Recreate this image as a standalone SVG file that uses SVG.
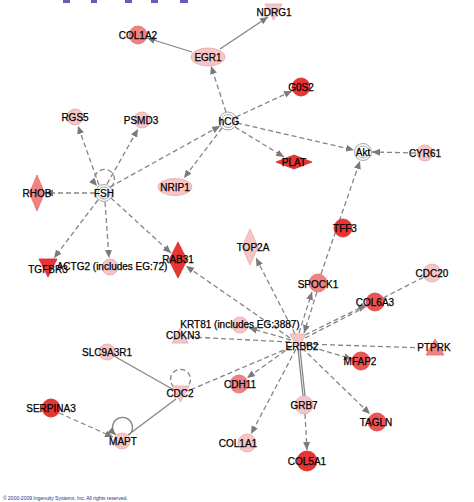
<svg xmlns="http://www.w3.org/2000/svg" width="474" height="502" viewBox="0 0 474 502">
<defs>
<marker id="ah" markerUnits="userSpaceOnUse" markerWidth="9" markerHeight="8" refX="8" refY="3.5" orient="auto">
<path d="M0,0 L8,3.5 L0,7 z" fill="#7a7a7a"/>
</marker>
</defs>
<style>
.e{fill:none;stroke:#858585;stroke-width:1.3}
.d{stroke-dasharray:5,3}
.a{marker-end:url(#ah)}
.lp{fill:#f6c6c6;stroke:#e4a8a8;stroke-width:0.8}
.sa{fill:#f08282;stroke:#e07070;stroke-width:0.8}
.rd{fill:#e83434;stroke:#d42a2a;stroke-width:0.8}
.md{fill:#ec5454;stroke:#d84444;stroke-width:0.8}
.wh{fill:#ffffff;stroke:#9a9a9a;stroke-width:0.9}
text{font-family:"Liberation Sans",Arial,sans-serif;font-size:10px;fill:#000;stroke:#000;stroke-width:0.25;text-anchor:middle}
.cp{font-size:5px;fill:#2a2a8a;stroke:none;text-anchor:start}
</style>
<rect width="474" height="502" fill="#ffffff"/>
<g id="title-fragments" fill="#6a5ab8">
<rect x="63" y="0" width="7" height="3"/>
<rect x="91" y="0" width="6" height="3"/>
<rect x="125" y="0" width="7" height="3"/>
<rect x="151" y="0" width="7" height="3"/>
<rect x="180" y="0" width="8" height="3"/>
</g>
<g id="connectors">
<line class="e a" x1="192" y1="52" x2="147" y2="38"/>
<line class="e a" x1="220" y1="49" x2="268" y2="17"/>
<line class="e d a" x1="226" y1="112" x2="211" y2="66"/>
<line class="e d a" x1="236" y1="117" x2="292" y2="91"/>
<line class="e d a" x1="235" y1="127" x2="284" y2="157"/>
<line class="e d a" x1="237" y1="123" x2="354" y2="150"/>
<line class="e d a" x1="222" y1="128" x2="184" y2="178"/>
<line class="e d a" x1="110" y1="187" x2="220" y2="126"/>
<line class="e d a" x1="416" y1="153" x2="372" y2="152"/>
<line class="e d a" x1="99" y1="185" x2="78" y2="126"/>
<line class="e d a" x1="107" y1="184" x2="138" y2="129"/>
<line class="e d a" x1="95" y1="193" x2="45" y2="193"/>
<path class="e d a" d="M111,187 A10,10 0 1 0 97,186"/>
<line class="e d a" x1="98" y1="200" x2="54" y2="258"/>
<line class="e d a" x1="105" y1="202" x2="109" y2="258"/>
<line class="e d a" x1="111" y1="198" x2="171" y2="253"/>
<line class="e d a" x1="290" y1="338" x2="186" y2="266"/>
<line class="e d a" x1="295" y1="334" x2="256" y2="258"/>
<line class="e d a" x1="321" y1="274" x2="360" y2="161"/>
<line class="e d a" x1="299" y1="333" x2="312" y2="292"/>
<line class="e d a" x1="317" y1="292" x2="304" y2="333"/>
<line class="e d" x1="305" y1="338" x2="424" y2="277"/>
<line class="e d a" x1="305" y1="335" x2="366" y2="305"/>
<line class="e d a" x1="291" y1="340" x2="249" y2="328"/>
<line class="e d" x1="290" y1="342" x2="190" y2="337"/>
<line class="e d" x1="306" y1="344" x2="426" y2="348"/>
<line class="e d a" x1="304" y1="345" x2="352" y2="359"/>
<line class="e d a" x1="292" y1="346" x2="247" y2="378"/>
<line class="e d" x1="291" y1="347" x2="190" y2="390"/>
<line class="e d a" x1="296" y1="349" x2="251" y2="434"/>
<line class="e" x1="298" y1="349" x2="303" y2="396"/>
<line class="e" x1="300" y1="349" x2="305" y2="396"/>
<line class="e d a" x1="302" y1="348" x2="370" y2="414"/>
<line class="e d a" x1="305" y1="414" x2="307" y2="450"/>
<line class="e" x1="114" y1="356" x2="174" y2="390"/>
<line class="e" x1="176" y1="399" x2="128" y2="435"/>
<path class="e d" d="M174,387 A10,10 0 1 1 187,387"/>
<line class="e d a" x1="59" y1="413" x2="113" y2="437"/>
<path class="e a" d="M129,435 A10,10 0 1 0 116,435"/>
</g>
<g id="NDRG1"><polygon class="lp" points="265,4 282,4 273.5,20"/><text x="274" y="16">NDRG1</text></g>
<g id="COL1A2"><circle class="sa" cx="138" cy="35" r="9"/><text x="138" y="39">COL1A2</text></g>
<g id="EGR1"><ellipse class="lp" cx="208" cy="57" rx="17" ry="9"/><text x="208" y="61">EGR1</text></g>
<g id="hCG"><circle class="wh" cx="228" cy="121" r="9"/><circle class="wh" cx="228" cy="121" r="6.5"/><text x="229" y="125">hCG</text></g>
<g id="G0S2"><circle class="rd" cx="301" cy="87" r="9"/><text x="301" y="91">G0S2</text></g>
<g id="PLAT"><polygon class="rd" points="276,162 294,155 312,162 294,169"/><text x="294" y="166">PLAT</text></g>
<g id="Akt"><circle class="wh" cx="363" cy="152" r="8.5"/><circle class="wh" cx="363" cy="152" r="6"/><text x="363" y="156">Akt</text></g>
<g id="CYR61"><circle class="lp" cx="425" cy="153" r="8"/><text x="425" y="157">CYR61</text></g>
<g id="RGS5"><circle class="lp" cx="75" cy="117" r="8"/><text x="75" y="121">RGS5</text></g>
<g id="PSMD3"><circle class="lp" cx="142" cy="120" r="8"/><text x="141" y="124">PSMD3</text></g>
<g id="FSH"><circle class="wh" cx="104" cy="193" r="8.5"/><circle class="wh" cx="104" cy="193" r="6"/><text x="104" y="197">FSH</text></g>
<g id="RHOB"><polygon class="sa" points="37,175 44.5,193 37,211 29.5,193"/><text x="37" y="197">RHOB</text></g>
<g id="NRIP1"><ellipse class="lp" cx="175" cy="187" rx="17" ry="8.5"/><text x="175" y="191">NRIP1</text></g>
<g id="TGFBR3"><polygon class="rd" points="39,259 57,259 48,277"/><text x="48" y="273">TGFBR3</text></g>
<g id="ACTG2"><circle class="lp" cx="110" cy="267" r="8"/><text x="112" y="270">ACTG2 (includes EG:72)</text></g>
<g id="RAB31"><polygon class="rd" points="178,242 187,260 178,278 169,260"/><text x="178" y="263">RAB31</text></g>
<g id="TOP2A"><polygon class="lp" points="250,229 258,247 250,265 242,247"/><text x="253" y="251">TOP2A</text></g>
<g id="TFF3"><circle class="rd" cx="343" cy="228" r="9"/><text x="345" y="232">TFF3</text></g>
<g id="SPOCK1"><circle class="sa" cx="318" cy="283" r="9"/><text x="318" y="288">SPOCK1</text></g>
<g id="CDC20"><circle class="lp" cx="432" cy="273" r="9"/><text x="432" y="277">CDC20</text></g>
<g id="COL6A3"><circle class="md" cx="375" cy="302" r="9"/><text x="375" y="306">COL6A3</text></g>
<g id="KRT81"><circle class="lp" cx="240" cy="325" r="8"/><text x="240" y="328">KRT81 (includes EG:3887)</text></g>
<g id="CDKN3"><polygon class="lp" points="180,328 188,343 172,343"/><text x="183" y="339">CDKN3</text></g>
<g id="ERBB2"><polygon class="lp" points="290,334 306,334 298,349"/><text x="302" y="350">ERBB2</text></g>
<g id="PTPRK"><polygon class="sa" points="435,339 444,355 426,355"/><text x="434" y="351">PTPRK</text></g>
<g id="MFAP2"><circle class="md" cx="361" cy="361" r="9"/><text x="360" y="365">MFAP2</text></g>
<g id="CDH11"><circle class="sa" cx="239" cy="384" r="9"/><text x="240" y="388">CDH11</text></g>
<g id="SLC9A3R1"><circle class="lp" cx="107" cy="352" r="8"/><text x="107" y="356">SLC9A3R1</text></g>
<g id="CDC2"><polygon class="lp" points="172,386 189,386 180.5,402"/><text x="180" y="397">CDC2</text></g>
<g id="SERPINA3"><circle class="rd" cx="51" cy="408" r="9"/><text x="51" y="412">SERPINA3</text></g>
<g id="MAPT"><circle class="lp" cx="122" cy="441" r="8"/><text x="123" y="445">MAPT</text></g>
<g id="GRB7"><circle class="lp" cx="304" cy="405" r="9"/><text x="304" y="409">GRB7</text></g>
<g id="COL1A1"><circle class="lp" cx="247" cy="443" r="9"/><text x="238" y="447">COL1A1</text></g>
<g id="COL5A1"><circle class="rd" cx="307" cy="461" r="10"/><text x="307" y="465">COL5A1</text></g>
<g id="TAGLN"><circle class="md" cx="377" cy="422" r="9"/><text x="376" y="426">TAGLN</text></g>
<text class="cp" x="3" y="500">© 2000-2009 Ingenuity Systems, Inc. All rights reserved.</text>
</svg>
